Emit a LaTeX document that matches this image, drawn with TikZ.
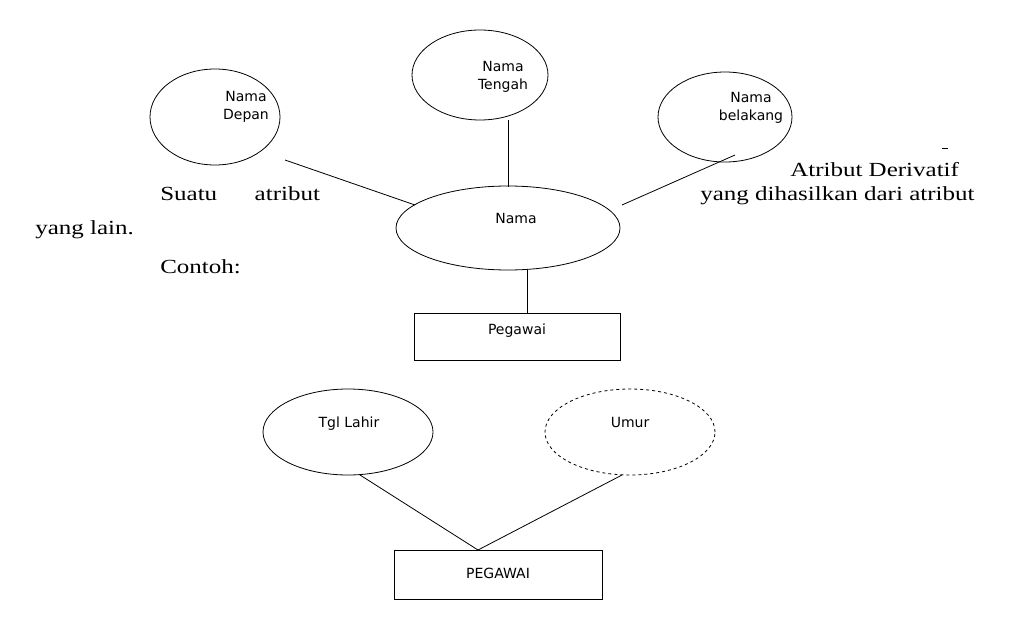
\documentclass[tikz,border=0pt]{standalone}
\usepackage{fontspec}
\setmainfont{Liberation Serif}
\newfontfamily\sans{DejaVu Sans}
\usetikzlibrary{shapes.geometric}
\begin{document}
\begin{tikzpicture}[x=1pt,y=-1pt,
  attr/.style={draw,ellipse,inner sep=0pt,line width=0.8pt},
  ent/.style={draw,rectangle,inner sep=0pt,line width=0.8pt},
  lbl/.style={font=\sans\fontsize{14}{18}\selectfont,align=center},
  txt/.style={font=\fontsize{20}{24}\selectfont,anchor=base west,inner sep=0pt,xscale=1.25,transform shape},
  conn/.style={line width=0.8pt}]
\useasboundingbox[fill=white] (0,0) rectangle (1024,618);
\node[attr,minimum width=130pt,minimum height=96pt] (dep) at (215,117) {};
\node[attr,minimum width=136pt,minimum height=90pt] (ten) at (480,75) {};
\node[attr,minimum width=134pt,minimum height=90pt] (bel) at (725,117) {};
\node[attr,minimum width=224pt,minimum height=84pt] (nama) at (508,228) {};
\node[ent,minimum width=206pt,minimum height=47pt] (peg) at (517,336.5) {};
\node[attr,minimum width=170pt,minimum height=86pt] (tgl) at (348,432) {};
\node[attr,dashed,minimum width=170pt,minimum height=86pt] (umur) at (630,432) {};
\node[ent,minimum width=208pt,minimum height=49pt] (peg2) at (498,574.5) {};
\node[lbl] at (246,107) {Nama\\Depan};
\node[lbl] at (503,77) {Nama\\Tengah};
\node[lbl] at (751,108) {Nama\\belakang};
\node[lbl] at (516,218) {Nama};
\node[lbl] at (517,331) {Pegawai};
\node[lbl] at (349,424) {Tgl Lahir};
\node[lbl] at (630,422) {Umur};
\node[lbl] at (498,573) {PEGAWAI};
\coordinate (m) at (478,550);
\draw[conn] (285,160) -- (415,205);
\draw[conn] (508,120) -- (508,187);
\draw[conn] (735,155) -- (622,205);
\draw[conn] (527,270) -- (527,313);
\draw[conn] (360,475) -- (m);
\draw[conn] (622,475) -- (m);
\node[txt] at (160,200) {Suatu\hspace{30pt}atribut};
\node[txt] at (35,234) {yang lain.};
\node[txt] at (160,273) {Contoh:};
\node[txt] at (790,176) {Atribut Derivatif};
\node[txt] at (700,200) {yang dihasilkan dari atribut};
\draw[line width=0.8pt] (942,148) -- (948,148);
\end{tikzpicture}
\end{document}
